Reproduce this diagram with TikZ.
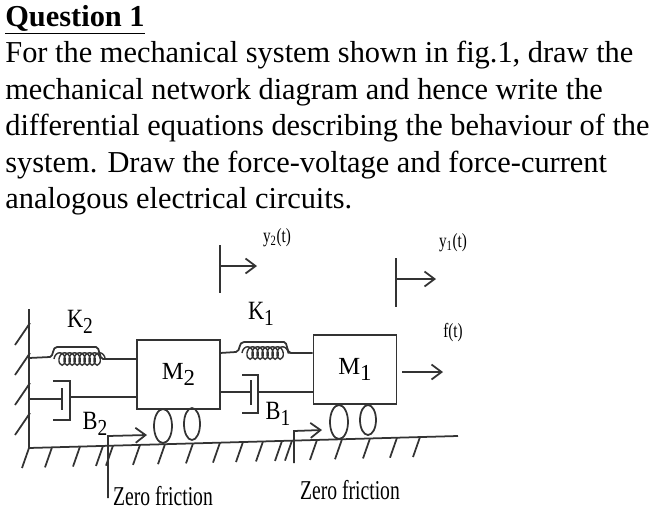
\documentclass[tikz,border=0pt]{standalone}
\usepackage{fontspec}
\setmainfont{Liberation Serif}
\usetikzlibrary{arrows.meta,decorations.pathmorphing}
\newcommand{\lowidx}[1]{\raisebox{-0.5ex}{\fontsize{13}{13}\selectfont #1}}
\tikzset{
    >={Straight Barb[length=2mm,width=3mm]},
    line/.style={line width=1pt, black!80},
    mass/.style={line, draw, minimum width=1.66cm, minimum height=1.38cm, inner sep=0pt, text=black, font=\fontsize{14}{14}\selectfont},
    coilspring/.style={line, line width=0.8pt, decorate, decoration={coil, aspect=0.7, segment length=1mm, amplitude=1.25mm, pre length=0pt, post length=0pt}},
    lbl/.style={inner sep=0pt, xscale=0.85, font=\fontsize{15}{15}\selectfont},
    small/.style={inner sep=0pt, xscale=0.75, font=\fontsize{11.5}{11.5}\selectfont},
    friction/.style={inner sep=0pt, xscale=0.72, font=\fontsize{15.5}{15.5}\selectfont}
}
\begin{document}
\begin{tikzpicture}[x=0.02cm, y=-0.02cm]
    \useasboundingbox (0,0) rectangle (654,514);

    % Question text
    \node[anchor=north west, inner sep=0pt, font=\fontsize{17.3}{17.3}\selectfont\bfseries] (title) at (5,5) {\underline{Question 1}};
    \node[anchor=north west, inner sep=0pt, align=left, font=\fontsize{17.3}{20.75}\selectfont] (question) at (5,41) {For the mechanical system shown in fig.1, draw the\\mechanical network diagram and hence write the\\differential equations describing the behaviour of the\\system. Draw the force-voltage and force-current\\analogous electrical circuits.};

    % Masses
    \node[mass] (m2) at (178.5,374.5) {M\lowidx{2}};
    \node[mass] (m1) at (355,369.5) {M\lowidx{1}};

    % Wall and ground
    \coordinate (walltop) at (29,309);
    \coordinate (corner) at (29,448);
    \coordinate (groundend) at (458,436);
    \draw[line] (walltop) -- (corner) -- (groundend);
    \foreach \y in {323,353,383,413}
        \draw[line] (30,\y) -- ++(-15,22);
    \foreach \x in {29,52,80,103,113,140,165,193,220,243,263,282,292,317,342,370,397,420}
        \draw[line] (\x,{448-0.028*(\x-29)}) -- ++(-7,20);

    % Spring K2
    \coordinate (k2a) at (29,358);
    \coordinate (k2b) at (50,357);
    \coordinate (k2c) at (103,359);
    \draw[line] (k2a) -- (k2b) .. controls (54,356) and (52,347) .. (57,347) -- (96,347) .. controls (100,347) and (99,359) .. (k2c) -- (k2c -| m2.west);
    \draw[coilspring] (54,359) -- (106,359);
    \node[lbl] (k2) at (80,322) {K\lowidx{2}};

    % Damper B2
    \coordinate (b2a) at (29,399);
    \coordinate (b2b) at (62,399);
    \coordinate (b2c) at (70,397);
    \draw[line] (b2a) -- (b2b);
    \draw[line] (62,388) -- (62,410);
    \draw[line] (53,381) -- (70,381) -- (70,420) -- (53,420);
    \draw[line] (b2c) -- (b2c -| m2.west);
    \node[lbl] (b2) at (95,424) {B\lowidx{2}};

    % Spring K1
    \coordinate (k1a) at (220,353);
    \coordinate (k1b) at (236,352);
    \coordinate (k1c) at (291,353);
    \draw[line] (k1a) -- (k1b) .. controls (241,351) and (238,342) .. (244,342) -- (284,342) .. controls (288,342) and (286,353) .. (k1c) -- (k1c -| m1.west);
    \draw[coilspring] (242,353) -- (293,353);
    \node[lbl] (k1) at (261,314) {K\lowidx{1}};

    % Damper B1
    \coordinate (b1a) at (220,392);
    \coordinate (b1b) at (251,392);
    \coordinate (b1c) at (258,392);
    \draw[line] (b1a) -- (b1b);
    \draw[line] (251,380) -- (251,405);
    \draw[line] (242,375) -- (258,375) -- (258,413) -- (242,413);
    \draw[line] (b1c) -- (b1c -| m1.west);
    \node[lbl] (b1) at (278,414) {B\lowidx{1}};

    % Rollers
    \draw[line] (163,426) ellipse [x radius=9, y radius=17];
    \draw[line] (192,424) ellipse [x radius=8, y radius=16];
    \draw[line] (339,422) ellipse [x radius=9, y radius=17];
    \draw[line] (368,420) ellipse [x radius=8, y radius=15];

    % Displacement y2
    \coordinate (y2top) at (220,245);
    \coordinate (y2bot) at (220,293);
    \coordinate (y2mid) at (220,266);
    \coordinate (y2end) at (257,266);
    \draw[line] (y2top) -- (y2bot);
    \draw[line,->] (y2mid) -- (y2end);
    \node[small] (y2) at (277,238) {y\textsubscript{2}(t)};

    % Displacement y1
    \coordinate (y1top) at (396,258);
    \coordinate (y1bot) at (396,307);
    \coordinate (y1mid) at (396,279);
    \coordinate (y1end) at (436,279);
    \draw[line] (y1top) -- (y1bot);
    \draw[line,->] (y1mid) -- (y1end);
    \node[small] (y1) at (453,243) {y\textsubscript{1}(t)};

    % Applied force
    \coordinate (fstart) at (402,372);
    \coordinate (fend) at (443,372);
    \draw[line,->] (fstart) -- (fend);
    \node[small] (f) at (453,333) {f(t)};

    % Zero friction
    \coordinate (zf2low) at (108,498);
    \coordinate (zf2top) at (108,436);
    \coordinate (zf2end) at (147,435);
    \draw[line,->] (zf2low) -- (zf2top) -- (zf2end);
    \node[friction] (zero2) at (163,496) {Zero friction};

    \coordinate (zf1low) at (294,463);
    \coordinate (zf1top) at (294,431);
    \coordinate (zf1end) at (322,430);
    \draw[line,->] (zf1low) -- (zf1top) -- (zf1end);
    \node[friction] (zero1) at (350,490) {Zero friction};
\end{tikzpicture}
\end{document}
